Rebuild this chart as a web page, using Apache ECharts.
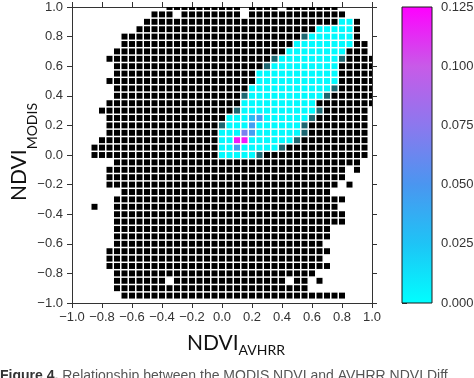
<!DOCTYPE html>
<html>
<head>
<meta charset="utf-8">
<title>NDVI MODIS vs AVHRR</title>
<script src="https://cdn.jsdelivr.net/npm/echarts@6/dist/echarts.min.js"></script>
<style>
  html, body { margin: 0; padding: 0; background: #fff; }
  #chart { width: 474px; height: 378px; }
</style>
</head>
<body>
<div id="chart"></div>
<script>
// Bins are 0.05 wide, centred on multiples of 0.05.
const binStep = 0.05;
const binStart = -1.0;   // x of column 0
const rowTop = 1.0;      // y of row 0

// One string per row, top row (NDVI_MODIS = 1.0) first, run-length coded:
// "." empty, "#" black, "t" dark teal, c/l/b/v/m coloured by value.
const rowCodes = [
  '13. 10# . 4# . 7# 5.',
  '11. 3# . 8# . 13# 4.',
  '10. 26# 2c # 2.',
  '9. 24# 5c # 2.',
  '7. 24# t 6c # 2.',
  '7. 23# 8c 2# .',
  '6. 23# 8c 3# .',
  '5. 22# t 8c t 4#',
  '6. 20# t 9c 5#',
  '6. 19# 11c 5#',
  '5. 20# 11c 5#',
  '6. 18# 11c t 5#',
  '6. 17# t 10c t 6#',
  '5. 18# 10c 8#',
  '4. 18# t 10c t 6# .',
  '5. 16# 3c l b 6c t 7# .',
  '5. 15# t 3c b 6c t 8# .',
  '5. 15# 3c v b 6c t 8# .',
  '4. 16# 2c 2m 6c t 9# .',
  '3. 17# 2c b 5c t 11# .',
  '3. 17# 5c t 14# .',
  '6. 33# 2.',
  '5. 32# . # 2.',
  '5. 32# 4.',
  '5. 31# . # 3.',
  '7. 28# 6.',
  '6. 31# 4.',
  '3. # 2. 30# 5.',
  '6. 31# 4.',
  '6. 31# 4.',
  '6. 29# 6.',
  '6. 29# 6.',
  '6. 28# 7.',
  '5. 30# 6.',
  '5. 29# 7.',
  '5. 30# 6.',
  '6. 27# 8.',
  '6. 7# . 15# . 2# . # 7.',
  '6. 26# 9.',
  '7. 30# 4.'
];

// values behind the coloured codes (read against the colour bar)
const codeValues = { c: 0.002, l: 0.03, b: 0.045, v: 0.068, m: 0.118 };

// colour bar
const barMin = 0;
const barMax = 0.125;
const barStep = 0.025;
const barColors = ['#00ffff', '#1ec4f6', '#4a96f0', '#8c78ee', '#c85ae8', '#ff00ff'];

const blackCells = [];
const tealCells = [];
const valueCells = [];
rowCodes.forEach((code, j) => {
  let k = 0;
  code.split(' ').forEach((tok) => {
    const n = tok.length > 1 ? parseInt(tok, 10) : 1;
    const ch = tok[tok.length - 1];
    for (let i = 0; i < n; i++, k++) {
      const x = +(binStart + k * binStep).toFixed(2);
      const y = +(rowTop - j * binStep).toFixed(2);
      if (ch === '#') blackCells.push([x, y]);
      else if (ch === 't') tealCells.push([x, y]);
      else if (ch in codeValues) valueCells.push([x, y, codeValues[ch]]);
    }
  });
});

function renderCell(params, api) {
  const c = api.coord([api.value(0), api.value(1)]);
  const s = api.size([binStep, binStep]);
  const w = s[0] * 0.8;
  const h = s[1] * 0.8;
  const cs = params.coordSys;
  const shape = echarts.graphic.clipRectByRect(
    { x: c[0] - w / 2, y: c[1] - h / 2, width: w, height: h },
    { x: cs.x, y: cs.y, width: cs.width, height: cs.height }
  );
  return shape && { type: 'rect', shape: shape, style: { fill: api.visual('color') } };
}

function renderBar(params, api) {
  const cs = params.coordSys;
  const top = api.coord([0, barMax])[1];
  const bottom = api.coord([0, barMin])[1];
  return {
    type: 'rect',
    shape: { x: cs.x, y: top, width: cs.width, height: bottom - top },
    style: {
      fill: new echarts.graphic.LinearGradient(0, 1, 0, 0,
        barColors.map((col, i) => ({ offset: i / (barColors.length - 1), color: col }))),
      stroke: '#1a1a1a',
      lineWidth: 1
    }
  };
}

function fmt(v) {
  if (Math.abs(v) < 1e-9) return '0.0';
  return (v < 0 ? '\u2212' : '') + Math.abs(v).toFixed(1);
}

const axisColor = '#333';
const tickFont = { color: '#333', fontSize: 13, fontFamily: 'Liberation Sans, Arial, sans-serif' };
const nameFont = 'Lato, sans-serif';

function frameAxis(extra) {
  return Object.assign({
    type: 'value',
    gridIndex: 0,
    min: -1,
    max: 1,
    interval: 0.2,
    axisLine: { show: true, onZero: false, lineStyle: { color: axisColor, width: 1 } },
    axisTick: { show: true, length: 5, lineStyle: { color: axisColor } },
    axisLabel: { show: false },
    splitLine: { show: false }
  }, extra);
}

const chart = echarts.init(document.getElementById('chart'), null, { renderer: 'canvas' });

chart.setOption({
  animation: false,
  backgroundColor: '#fff',
  // fixed plot boxes, no automatic shrinking around labels
  grid: [
    { left: 72, top: 7, width: 300, height: 296, outerBoundsMode: 'none' },
    { left: 402, top: 7, width: 30, height: 296, outerBoundsMode: 'none' }
  ],
  xAxis: [
    frameAxis({
      position: 'bottom',
      axisLabel: Object.assign({ show: true, margin: 8, formatter: fmt }, tickFont),
      name: '{a|NDVI}{b|AVHRR}',
      nameLocation: 'middle',
      nameGap: 23,
      nameMoveOverlap: false,
      nameTextStyle: {
        rich: {
          a: { fontSize: 21, fontFamily: nameFont, color: '#111', lineHeight: 34, padding: [0, 0, 0, 28] },
          b: { fontSize: 14, fontFamily: nameFont, color: '#111', lineHeight: 16, padding: [15, 0, 0, 0] }
        }
      }
    }),
    frameAxis({ position: 'top' }),
    { type: 'value', gridIndex: 1, min: 0, max: 1, show: false }
  ],
  yAxis: [
    frameAxis({
      position: 'left',
      axisLabel: Object.assign({ show: true, margin: 9, formatter: fmt }, tickFont),
      name: '{a|NDVI}{b|MODIS}',
      nameLocation: 'middle',
      nameGap: 37,
      nameMoveOverlap: false,
      nameTextStyle: {
        rich: {
          a: { fontSize: 21, fontFamily: nameFont, color: '#111', lineHeight: 26,
            verticalAlign: 'top', padding: [0, 0, 0, 6] },
          b: { fontSize: 14, fontFamily: nameFont, color: '#111', lineHeight: 16, padding: [20, 0, 0, 0] }
        }
      }
    }),
    frameAxis({ position: 'right' }),
    {
      type: 'value',
      gridIndex: 1,
      position: 'right',
      min: barMin,
      max: barMax,
      interval: barStep,
      axisLine: { show: false },
      axisTick: { show: true, length: 5, lineStyle: { color: axisColor } },
      axisLabel: Object.assign({ margin: 9, formatter: (v) => v.toFixed(3) }, tickFont),
      splitLine: { show: false }
    }
  ],
  visualMap: {
    type: 'continuous',
    show: false,
    min: barMin,
    max: barMax,
    dimension: 2,
    seriesIndex: 2,
    inRange: { color: barColors }
  },
  series: [
    { type: 'custom', name: 'black', xAxisIndex: 0, yAxisIndex: 0, renderItem: renderCell,
      itemStyle: { color: '#000' }, data: blackCells, silent: true },
    { type: 'custom', name: 'edge', xAxisIndex: 0, yAxisIndex: 0, renderItem: renderCell,
      itemStyle: { color: '#1d6670' }, data: tealCells, silent: true },
    { type: 'custom', name: 'diff', xAxisIndex: 0, yAxisIndex: 0, renderItem: renderCell,
      data: valueCells, silent: true },
    { type: 'custom', name: 'colorbar', xAxisIndex: 2, yAxisIndex: 2, renderItem: renderBar,
      data: [[0.5, barMax]], silent: true }
  ],
  graphic: [{
    type: 'text',
    left: 0,
    top: 369,
    silent: true,
    style: {
      text: '{b|Figure 4.} Relationship between the MODIS NDVI and AVHRR NDVI Diff',
      fill: '#555',
      font: '14px Liberation Sans, Arial, sans-serif',
      rich: { b: { fontWeight: 'bold', fill: '#333', fontSize: 14 } }
    }
  }]
});
</script>
</body>
</html>
